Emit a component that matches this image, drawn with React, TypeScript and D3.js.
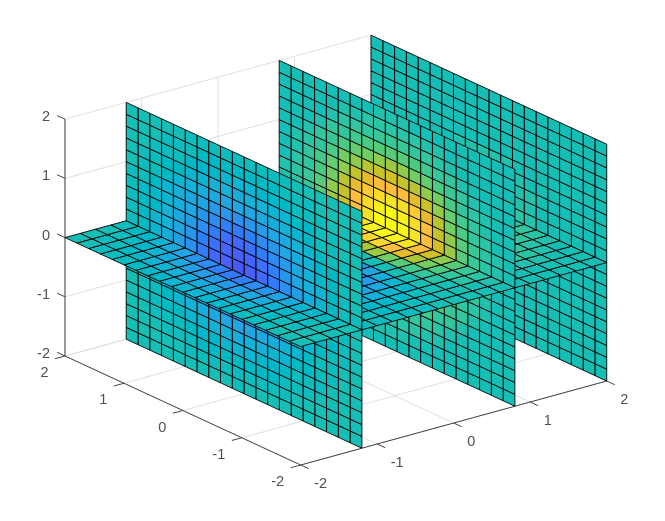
import * as d3 from "d3";

const width = 665;
const height = 521;

// all slice values below are v * 100; rows run along z (or x for the floor), columns along y
const ticks = [-2, -1, 0, 1, 2];
const sliceX = { left: -1.2, mid: 0.8, back: 2 };
const gridStep = 0.2;

const planeLeft = [
  [0, 0, 0, 0, 0, 0, 0, 0, 0, 0, -1, 0, 0, 0, 0, 0, 0, 0, 0, 0],
  [0, 0, 0, 0, 0, 0, -1, -1, -1, -1, -1, -1, -1, -1, -1, 0, 0, 0, 0, 0],
  [0, 0, 0, 0, -1, -1, -1, -2, -2, -2, -2, -2, -2, -2, -1, -1, -1, 0, 0, 0],
  [0, 0, 0, -1, -1, -1, -2, -3, -3, -4, -4, -4, -3, -3, -2, -1, -1, -1, 0, 0],
  [0, 0, -1, -1, -2, -2, -4, -5, -6, -6, -7, -6, -6, -5, -4, -2, -2, -1, -1, 0],
  [0, 0, -1, -1, -2, -4, -6, -7, -9, -10, -10, -10, -9, -7, -6, -4, -2, -1, -1, 0],
  [0, -1, -1, -2, -4, -6, -8, -10, -13, -14, -15, -14, -13, -10, -8, -6, -4, -2, -1, -1],
  [0, -1, -2, -3, -5, -7, -10, -14, -17, -19, -20, -19, -17, -14, -10, -7, -5, -3, -2, -1],
  [0, -1, -2, -3, -6, -9, -13, -17, -21, -23, -24, -23, -21, -17, -13, -9, -6, -3, -2, -1],
  [0, -1, -2, -4, -6, -10, -14, -19, -23, -26, -27, -26, -23, -19, -14, -10, -6, -4, -2, -1],
  [-1, -1, -2, -4, -7, -11, -15, -20, -24, -27, -28, -27, -24, -20, -15, -11, -7, -4, -2, -1],
  [0, -1, -2, -4, -6, -10, -14, -19, -23, -26, -27, -26, -23, -19, -14, -10, -6, -4, -2, -1],
  [0, -1, -2, -3, -6, -9, -13, -17, -21, -23, -24, -23, -21, -17, -13, -9, -6, -3, -2, -1],
  [0, -1, -2, -3, -5, -7, -10, -14, -17, -19, -20, -19, -17, -14, -10, -7, -5, -3, -2, -1],
  [0, -1, -1, -2, -4, -6, -8, -10, -13, -14, -15, -14, -13, -10, -8, -6, -4, -2, -1, -1],
  [0, 0, -1, -1, -2, -4, -6, -7, -9, -10, -10, -10, -9, -7, -6, -4, -2, -1, -1, 0],
  [0, 0, -1, -1, -2, -2, -4, -5, -6, -6, -7, -6, -6, -5, -4, -2, -2, -1, -1, 0],
  [0, 0, 0, -1, -1, -1, -2, -3, -3, -4, -4, -4, -3, -3, -2, -1, -1, -1, 0, 0],
  [0, 0, 0, 0, -1, -1, -1, -2, -2, -2, -2, -2, -2, -2, -1, -1, -1, 0, 0, 0],
  [0, 0, 0, 0, 0, 0, -1, -1, -1, -1, -1, -1, -1, -1, -1, 0, 0, 0, 0, 0],
];

const planeMid = [
  [0, 0, 0, 0, 0, 0, 0, 1, 1, 1, 1, 1, 1, 1, 0, 0, 0, 0, 0, 0],
  [0, 0, 0, 0, 0, 1, 1, 1, 1, 2, 2, 2, 1, 1, 1, 1, 0, 0, 0, 0],
  [0, 0, 0, 0, 1, 1, 2, 2, 3, 3, 3, 3, 3, 2, 2, 1, 1, 0, 0, 0],
  [0, 0, 0, 1, 1, 2, 3, 4, 5, 6, 6, 6, 5, 4, 3, 2, 1, 1, 0, 0],
  [0, 0, 1, 1, 2, 4, 5, 7, 9, 10, 10, 10, 9, 7, 5, 4, 2, 1, 1, 0],
  [0, 1, 1, 2, 4, 6, 8, 11, 13, 15, 16, 15, 13, 11, 8, 6, 4, 2, 1, 1],
  [0, 1, 2, 3, 5, 8, 12, 15, 19, 21, 22, 21, 19, 15, 12, 8, 5, 3, 2, 1],
  [1, 1, 2, 4, 7, 11, 15, 21, 25, 28, 29, 28, 25, 21, 15, 11, 7, 4, 2, 1],
  [1, 1, 3, 5, 9, 13, 19, 25, 31, 35, 36, 35, 31, 25, 19, 13, 9, 5, 3, 1],
  [1, 2, 3, 6, 10, 15, 21, 28, 35, 39, 41, 39, 35, 28, 21, 15, 10, 6, 3, 2],
  [1, 2, 3, 6, 10, 16, 22, 29, 36, 41, 42, 41, 36, 29, 22, 16, 10, 6, 3, 2],
  [1, 2, 3, 6, 10, 15, 21, 28, 35, 39, 41, 39, 35, 28, 21, 15, 10, 6, 3, 2],
  [1, 1, 3, 5, 9, 13, 19, 25, 31, 35, 36, 35, 31, 25, 19, 13, 9, 5, 3, 1],
  [1, 1, 2, 4, 7, 11, 15, 21, 25, 28, 29, 28, 25, 21, 15, 11, 7, 4, 2, 1],
  [0, 1, 2, 3, 5, 8, 12, 15, 19, 21, 22, 21, 19, 15, 12, 8, 5, 3, 2, 1],
  [0, 1, 1, 2, 4, 6, 8, 11, 13, 15, 16, 15, 13, 11, 8, 6, 4, 2, 1, 1],
  [0, 0, 1, 1, 2, 4, 5, 7, 9, 10, 10, 10, 9, 7, 5, 4, 2, 1, 1, 0],
  [0, 0, 0, 1, 1, 2, 3, 4, 5, 6, 6, 6, 5, 4, 3, 2, 1, 1, 0, 0],
  [0, 0, 0, 0, 1, 1, 2, 2, 3, 3, 3, 3, 3, 2, 2, 1, 1, 0, 0, 0],
  [0, 0, 0, 0, 0, 1, 1, 1, 1, 2, 2, 2, 1, 1, 1, 1, 0, 0, 0, 0],
];

const planeBack = [
  [0, 0, 0, 0, 0, 0, 0, 0, 0, 0, 0, 0, 0, 0, 0, 0, 0, 0, 0, 0],
  [0, 0, 0, 0, 0, 0, 0, 0, 0, 0, 0, 0, 0, 0, 0, 0, 0, 0, 0, 0],
  [0, 0, 0, 0, 0, 0, 0, 0, 0, 0, 0, 0, 0, 0, 0, 0, 0, 0, 0, 0],
  [0, 0, 0, 0, 0, 0, 0, 0, 0, 1, 1, 1, 0, 0, 0, 0, 0, 0, 0, 0],
  [0, 0, 0, 0, 0, 0, 0, 1, 1, 1, 1, 1, 1, 1, 0, 0, 0, 0, 0, 0],
  [0, 0, 0, 0, 0, 0, 1, 1, 1, 1, 1, 1, 1, 1, 1, 0, 0, 0, 0, 0],
  [0, 0, 0, 0, 0, 1, 1, 1, 2, 2, 2, 2, 2, 1, 1, 1, 0, 0, 0, 0],
  [0, 0, 0, 0, 1, 1, 1, 2, 2, 2, 3, 2, 2, 2, 1, 1, 1, 0, 0, 0],
  [0, 0, 0, 0, 1, 1, 2, 2, 3, 3, 3, 3, 3, 2, 2, 1, 1, 0, 0, 0],
  [0, 0, 0, 1, 1, 1, 2, 2, 3, 3, 4, 3, 3, 2, 2, 1, 1, 1, 0, 0],
  [0, 0, 0, 1, 1, 1, 2, 3, 3, 4, 4, 4, 3, 3, 2, 1, 1, 1, 0, 0],
  [0, 0, 0, 1, 1, 1, 2, 2, 3, 3, 4, 3, 3, 2, 2, 1, 1, 1, 0, 0],
  [0, 0, 0, 0, 1, 1, 2, 2, 3, 3, 3, 3, 3, 2, 2, 1, 1, 0, 0, 0],
  [0, 0, 0, 0, 1, 1, 1, 2, 2, 2, 3, 2, 2, 2, 1, 1, 1, 0, 0, 0],
  [0, 0, 0, 0, 0, 1, 1, 1, 2, 2, 2, 2, 2, 1, 1, 1, 0, 0, 0, 0],
  [0, 0, 0, 0, 0, 0, 1, 1, 1, 1, 1, 1, 1, 1, 1, 0, 0, 0, 0, 0],
  [0, 0, 0, 0, 0, 0, 0, 1, 1, 1, 1, 1, 1, 1, 0, 0, 0, 0, 0, 0],
  [0, 0, 0, 0, 0, 0, 0, 0, 0, 1, 1, 1, 0, 0, 0, 0, 0, 0, 0, 0],
  [0, 0, 0, 0, 0, 0, 0, 0, 0, 0, 0, 0, 0, 0, 0, 0, 0, 0, 0, 0],
  [0, 0, 0, 0, 0, 0, 0, 0, 0, 0, 0, 0, 0, 0, 0, 0, 0, 0, 0, 0],
];

// z = 0 slice, one row per x step
const floor = [
  [0, 0, 0, -1, -1, -1, -2, -3, -3, -4, -4, -4, -3, -3, -2, -1, -1, -1, 0, 0],
  [0, 0, -1, -1, -2, -3, -4, -5, -6, -7, -7, -7, -6, -5, -4, -3, -2, -1, -1, 0],
  [0, 0, -1, -2, -3, -5, -7, -9, -11, -12, -12, -12, -11, -9, -7, -5, -3, -2, -1, 0],
  [0, -1, -2, -3, -5, -7, -10, -14, -17, -19, -20, -19, -17, -14, -10, -7, -5, -3, -2, -1],
  [-1, -1, -2, -4, -7, -10, -15, -20, -24, -27, -28, -27, -24, -20, -15, -10, -7, -4, -2, -1],
  [-1, -1, -3, -5, -9, -14, -19, -26, -31, -35, -37, -35, -31, -26, -19, -14, -9, -5, -3, -1],
  [-1, -2, -3, -6, -10, -16, -22, -29, -36, -41, -42, -41, -36, -29, -22, -16, -10, -6, -3, -2],
  [-1, -2, -3, -6, -10, -15, -22, -29, -36, -40, -42, -40, -36, -29, -22, -15, -10, -6, -3, -2],
  [-1, -1, -3, -5, -8, -13, -18, -24, -29, -33, -34, -33, -29, -24, -18, -13, -8, -5, -3, -1],
  [0, -1, -1, -3, -5, -7, -10, -13, -16, -18, -19, -18, -16, -13, -10, -7, -5, -3, -1, -1],
  [0, 0, 0, 0, 0, 0, 0, 0, 0, 0, 0, 0, 0, 0, 0, 0, 0, 0, 0, 0],
  [0, 1, 1, 3, 5, 7, 10, 13, 16, 18, 19, 18, 16, 13, 10, 7, 5, 3, 1, 1],
  [1, 1, 3, 5, 8, 13, 18, 24, 29, 33, 34, 33, 29, 24, 18, 13, 8, 5, 3, 1],
  [1, 2, 3, 6, 10, 15, 22, 29, 36, 40, 42, 40, 36, 29, 22, 15, 10, 6, 3, 2],
  [1, 2, 3, 6, 10, 16, 22, 29, 36, 41, 42, 41, 36, 29, 22, 16, 10, 6, 3, 2],
  [1, 1, 3, 5, 9, 14, 19, 26, 31, 35, 37, 35, 31, 26, 19, 14, 9, 5, 3, 1],
  [1, 1, 2, 4, 7, 10, 15, 20, 24, 27, 28, 27, 24, 20, 15, 10, 7, 4, 2, 1],
  [0, 1, 2, 3, 5, 7, 10, 14, 17, 19, 20, 19, 17, 14, 10, 7, 5, 3, 2, 1],
  [0, 0, 1, 2, 3, 5, 7, 9, 11, 12, 12, 12, 11, 9, 7, 5, 3, 2, 1, 0],
  [0, 0, 1, 1, 2, 3, 4, 5, 6, 7, 7, 7, 6, 5, 4, 3, 2, 1, 1, 0],
];

// parula, 64 levels
const parula = [
  [0.2422, 0.1504, 0.6603], [0.2504, 0.165, 0.7076], [0.2578, 0.1818, 0.7511], [0.2647, 0.1978, 0.7952],
  [0.2706, 0.2147, 0.8364], [0.2751, 0.2342, 0.871], [0.2783, 0.2559, 0.8991], [0.2803, 0.2782, 0.9221],
  [0.2813, 0.3006, 0.9414], [0.281, 0.3228, 0.9579], [0.2795, 0.3447, 0.9717], [0.276, 0.3667, 0.9829],
  [0.2699, 0.3892, 0.9906], [0.2602, 0.4123, 0.9952], [0.244, 0.4358, 0.9988], [0.2206, 0.4603, 0.9973],
  [0.1963, 0.4847, 0.9892], [0.1834, 0.5074, 0.9798], [0.1786, 0.5289, 0.9682], [0.1764, 0.5499, 0.952],
  [0.1687, 0.5703, 0.9359], [0.154, 0.5902, 0.9218], [0.146, 0.6091, 0.9079], [0.138, 0.6276, 0.8973],
  [0.1248, 0.6459, 0.8883], [0.1113, 0.6635, 0.8763], [0.0952, 0.6798, 0.8598], [0.0689, 0.6948, 0.8394],
  [0.0297, 0.7082, 0.8163], [0.0036, 0.7203, 0.7917], [0.0067, 0.7312, 0.766], [0.0433, 0.7411, 0.7394],
  [0.0964, 0.75, 0.712], [0.1408, 0.7584, 0.6842], [0.1717, 0.767, 0.6554], [0.1938, 0.7758, 0.6251],
  [0.2161, 0.7843, 0.5923], [0.247, 0.7918, 0.5567], [0.2906, 0.7973, 0.5188], [0.3406, 0.8008, 0.4789],
  [0.3909, 0.8029, 0.4354], [0.4456, 0.8024, 0.3909], [0.5044, 0.7993, 0.348], [0.5616, 0.7942, 0.3045],
  [0.6174, 0.7876, 0.2612], [0.672, 0.7793, 0.2227], [0.7242, 0.7698, 0.191], [0.7738, 0.7598, 0.1646],
  [0.8203, 0.7498, 0.1535], [0.8634, 0.7406, 0.1596], [0.9035, 0.733, 0.1774], [0.9393, 0.7288, 0.21],
  [0.9728, 0.7298, 0.2394], [0.9956, 0.7434, 0.2371], [0.997, 0.7659, 0.2199], [0.9952, 0.7893, 0.2028],
  [0.9892, 0.8136, 0.1885], [0.9786, 0.8386, 0.1766], [0.9676, 0.8639, 0.1643], [0.961, 0.889, 0.1537],
  [0.9597, 0.9135, 0.1423], [0.9628, 0.9373, 0.1265], [0.9691, 0.9606, 0.1064], [0.9769, 0.9839, 0.0805],
].map(([r, g, b]) => d3.rgb(r * 255, g * 255, b * 255).formatHex());

const color = d3.scaleQuantize<string>().domain([-42.2, 42.2]).range(parula);

// orthographic box: each data axis moves the point along its own screen direction
const origin = { x: 300.7, y: 465 };
const xToX = d3.scaleLinear().domain([-2, 2]).range([0, 306]);
const xToY = d3.scaleLinear().domain([-2, 2]).range([0, -84]);
const yToX = d3.scaleLinear().domain([-2, 2]).range([0, -235.7]);
const yToY = d3.scaleLinear().domain([-2, 2]).range([0, -109]);
const zToY = d3.scaleLinear().domain([-2, 2]).range([0, -236.8]);

type P = [number, number];
const project = (x: number, y: number, z: number): P => [
  origin.x + xToX(x) + yToX(y),
  origin.y + xToY(x) + yToY(y) + zToY(z),
];

const poly = d3.line();
const seg = (a: P, b: P) => poly([a, b]) as string;
const quad = (pts: P[]) => (poly(pts) as string) + "Z";

const grid = (i: number) => -2 + i * gridStep;

type Cell = { d: string; fill: string };

const xPlane = (x: number, values: number[][]): Cell[] =>
  values.flatMap((row, k) =>
    row.map((v, j) => ({
      d: quad([
        project(x, grid(j), grid(k)),
        project(x, grid(j + 1), grid(k)),
        project(x, grid(j + 1), grid(k + 1)),
        project(x, grid(j), grid(k + 1)),
      ]),
      fill: color(v),
    }))
  );

const floorCells = (from: number, to: number): Cell[] =>
  floor.slice(from, to).flatMap((row, n) =>
    row.map((v, j) => {
      const i = from + n;
      return {
        d: quad([
          project(grid(i), grid(j), 0),
          project(grid(i + 1), grid(j), 0),
          project(grid(i + 1), grid(j + 1), 0),
          project(grid(i), grid(j + 1), 0),
        ]),
        fill: color(v),
      };
    })
  );

// back to front: the vertical slices cut the z = 0 slice along grid lines
const cells: Cell[] = [
  ...xPlane(sliceX.back, planeBack),
  ...floorCells(14, 20),
  ...xPlane(sliceX.mid, planeMid),
  ...floorCells(4, 14),
  ...xPlane(sliceX.left, planeLeft),
  ...floorCells(0, 4),
];

const gridLines: string[] = [
  ...ticks.flatMap((t) => [
    seg(project(t, -2, -2), project(t, 2, -2)),
    seg(project(-2, t, -2), project(2, t, -2)),
    seg(project(t, 2, -2), project(t, 2, 2)),
    seg(project(-2, 2, t), project(2, 2, t)),
    seg(project(2, t, -2), project(2, t, 2)),
    seg(project(2, -2, t), project(2, 2, t)),
  ]),
];

const axisLines = [
  seg(project(-2, 2, -2), project(-2, 2, 2)),
  seg(project(-2, 2, -2), project(-2, -2, -2)),
  seg(project(-2, -2, -2), project(2, -2, -2)),
  ...ticks.flatMap((t) => [
    seg(project(-2, 2, t), project(-2, 2.135, t)),
    seg(project(-2, t, -2), project(-2.13, t, -2)),
    seg(project(t, -2, -2), project(t, -2.135, -2)),
  ]),
];

const fontStyle = { fontFamily: "'Liberation Sans', Arial, sans-serif", fontSize: 14.5, fill: "#505050" };

export default function App() {
  return (
    <svg
      width={width}
      height={height}
      viewBox={`0 0 ${width} ${height}`}
      style={{ position: "absolute", left: 0, top: 0, background: "#fff" }}
    >
      {/* the source picture is a slightly soft screenshot */}
      <defs>
        <filter id="soft" x="0" y="0" width="100%" height="100%" filterUnits="userSpaceOnUse">
          <feGaussianBlur stdDeviation="0.4" />
        </filter>
      </defs>
      <g filter="url(#soft)">
        <rect width={width} height={height} fill="#fff" />
        <g fill="none" stroke="#e0e0e0" strokeWidth={1}>
          {gridLines.map((d, i) => (
            <path key={i} d={d} />
          ))}
        </g>
        <g fill="none" stroke="#444" strokeWidth={1}>
          {axisLines.map((d, i) => (
            <path key={i} d={d} />
          ))}
        </g>
        <g stroke="#000" strokeWidth={0.9} strokeLinejoin="round">
          {cells.map((c, i) => (
            <path key={i} d={c.d} fill={c.fill} />
          ))}
        </g>
        <g style={fontStyle}>
          {ticks.map((t) => {
            const [zx, zy] = project(-2, 2, t);
            const [yx, yy] = project(-2, t, -2);
            const [xx, xy] = project(t, -2, -2);
            return (
              <g key={t}>
                <text x={zx - 15} y={zy - 3} textAnchor="end" dominantBaseline="central">{t}</text>
                <text x={yx - 16.5} y={yy + 16} textAnchor="end" dominantBaseline="central">{t}</text>
                <text x={xx + 13.5} y={xy + 18} textAnchor="start" dominantBaseline="central">{t}</text>
              </g>
            );
          })}
        </g>
      </g>
    </svg>
  );
}
